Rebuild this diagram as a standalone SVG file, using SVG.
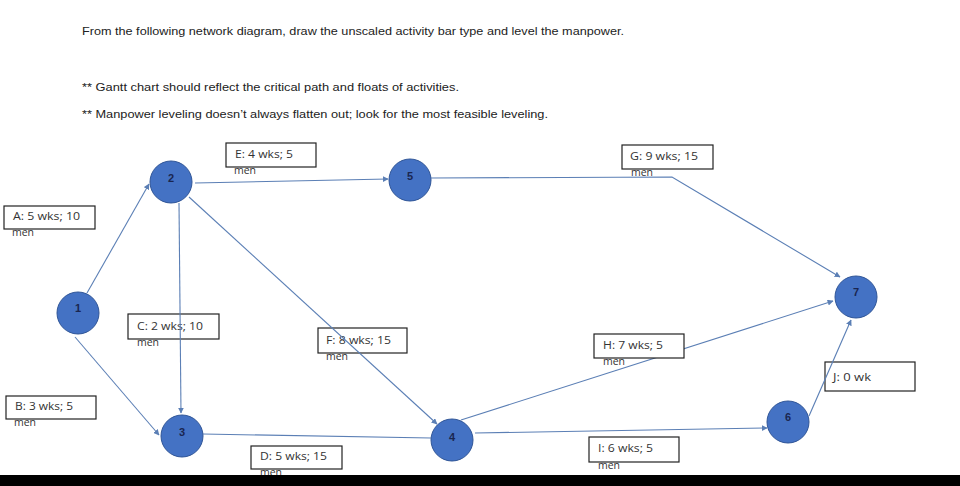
<svg xmlns="http://www.w3.org/2000/svg" width="960" height="486" viewBox="0 0 960 486">
<defs>
<marker id="ah" viewBox="0 0 10 10" refX="9" refY="5" markerWidth="6" markerHeight="6" markerUnits="userSpaceOnUse" orient="auto">
<path d="M0,0 L10,5 L0,10 z" fill="#5b7fb5"/>
</marker>
<style>
.t{font-family:"Liberation Sans",Arial,sans-serif;font-size:11.5px;fill:#222}
.lb{font-family:"Open Sans","Liberation Sans",Arial,sans-serif;font-size:11px;fill:#333}
.mn{font-family:"Open Sans","Liberation Sans",Arial,sans-serif;font-size:10.5px;fill:#333}
.box{fill:#fff;stroke:#222;stroke-width:1.2}
.nd{fill:#4472c4;stroke:#2f5597;stroke-width:1}
.nt{font-family:"Liberation Sans",Arial,sans-serif;font-size:11px;font-weight:bold;fill:#1a2650;text-anchor:middle}
.c{fill:none;stroke:#5b7fb5;stroke-width:1.1}
</style>
</defs>
<rect width="960" height="486" fill="#fff"/>
<text class="t" x="82" y="35" textLength="542" lengthAdjust="spacingAndGlyphs">From the following network diagram, draw the unscaled activity bar type and level the manpower.</text>
<text class="t" x="82" y="91" textLength="377" lengthAdjust="spacingAndGlyphs">** Gantt chart should reflect the critical path and floats of activities.</text>
<text class="t" x="82" y="118" textLength="466" lengthAdjust="spacingAndGlyphs">** Manpower leveling doesn’t always flatten out; look for the most feasible leveling.</text>

<g id="lC"><text class="mn" x="137" y="346">men</text><rect class="box" x="128" y="314" width="91" height="25"/><text class="lb" x="137" y="330" textLength="66" lengthAdjust="spacingAndGlyphs">C: 2 wks; 10</text></g>
<g id="lF"><text class="mn" x="326" y="360">men</text><rect class="box" x="318" y="328" width="89" height="25"/><text class="lb" x="326" y="344" textLength="65" lengthAdjust="spacingAndGlyphs">F: 8 wks; 15</text></g>
<g id="lJ"><rect class="box" x="825" y="362" width="90" height="29"/><text class="lb" x="833" y="381" textLength="38" lengthAdjust="spacingAndGlyphs">J: 0 wk</text></g>

<g id="connectors">
<path class="c" d="M87,293 L149,184" marker-end="url(#ah)"/>
<path class="c" d="M75,337 L159,435" marker-end="url(#ah)"/>
<path class="c" d="M179,203 L181,413" marker-end="url(#ah)"/>
<path class="c" d="M195,183 L388,179" marker-end="url(#ah)"/>
<path class="c" d="M203,434 L431,438"/>
<path class="c" d="M189,197 L437,424" marker-end="url(#ah)"/>
<path class="c" d="M431,178 L672,177 L840,277" marker-end="url(#ah)"/>
<path class="c" d="M461,420 L833,301" marker-end="url(#ah)"/>
<path class="c" d="M475,433 L767,428" marker-end="url(#ah)"/>
<path class="c" d="M809,416 L851,320" marker-end="url(#ah)"/>
</g>

<g id="n1"><circle class="nd" cx="78" cy="313" r="21"/><text class="nt" x="78" y="312">1</text></g>
<g id="n2"><circle class="nd" cx="171" cy="182" r="21"/><text class="nt" x="171" y="182">2</text></g>
<g id="n3"><circle class="nd" cx="182" cy="436" r="21"/><text class="nt" x="182" y="436">3</text></g>
<g id="n4"><circle class="nd" cx="452" cy="440" r="21"/><text class="nt" x="452" y="441">4</text></g>
<g id="n5"><circle class="nd" cx="410" cy="180" r="21"/><text class="nt" x="410" y="180">5</text></g>
<g id="n6"><circle class="nd" cx="788" cy="422" r="21"/><text class="nt" x="788" y="421">6</text></g>
<g id="n7"><circle class="nd" cx="856" cy="297" r="21"/><text class="nt" x="856" y="296">7</text></g>

<g id="lA"><text class="mn" x="12" y="236">men</text><rect class="box" x="4" y="206" width="91" height="23"/><text class="lb" x="13" y="220" textLength="67" lengthAdjust="spacingAndGlyphs">A: 5 wks; 10</text></g>
<g id="lB"><text class="mn" x="14" y="426">men</text><rect class="box" x="6" y="396" width="90" height="23"/><text class="lb" x="15" y="410" textLength="58" lengthAdjust="spacingAndGlyphs">B: 3 wks; 5</text></g>
<g id="lD"><text class="mn" x="260" y="476">men</text><rect class="box" x="251" y="446" width="91" height="23"/><text class="lb" x="260" y="460" textLength="67" lengthAdjust="spacingAndGlyphs">D: 5 wks; 15</text></g>
<g id="lE"><text class="mn" x="234" y="174">men</text><rect class="box" x="226" y="143" width="90" height="24"/><text class="lb" x="235" y="158" textLength="58" lengthAdjust="spacingAndGlyphs">E: 4 wks; 5</text></g>
<g id="lG"><text class="mn" x="631" y="176">men</text><rect class="box" x="622" y="145" width="91" height="24"/><text class="lb" x="630" y="160" textLength="68" lengthAdjust="spacingAndGlyphs">G: 9 wks; 15</text></g>
<g id="lH"><text class="mn" x="603" y="365">men</text><rect class="box" x="594" y="334" width="90" height="24"/><text class="lb" x="603" y="349" textLength="60" lengthAdjust="spacingAndGlyphs">H: 7 wks; 5</text></g>
<g id="lI"><text class="mn" x="598" y="469">men</text><rect class="box" x="589" y="437" width="90" height="25"/><text class="lb" x="598" y="452" textLength="55" lengthAdjust="spacingAndGlyphs">I: 6 wks; 5</text></g>

<rect x="0" y="475" width="960" height="11" fill="#000"/>
</svg>
